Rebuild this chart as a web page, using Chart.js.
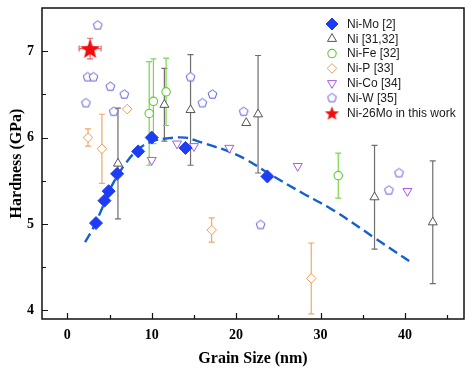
<!DOCTYPE html>
<html>
<head>
<meta charset="utf-8">
<script src="https://cdn.jsdelivr.net/npm/chart.js@4/dist/chart.umd.min.js"></script>
<style>
html, body { margin: 0; padding: 0; background: #fff; }
#wrap { width: 474px; height: 372px; }
</style>
</head>
<body>
<div id="wrap"><canvas id="hardnessChart" width="474" height="372"></canvas></div>
<script>
// values
const niMoX = [3.4, 4.4, 4.9, 5.9, 8.4, 10.0, 14.0, 23.7];
const niMoY = [5.01, 5.27, 5.38, 5.58, 5.84, 6.0, 5.88, 5.55];

const niX = [6.0, 11.5, 14.6, 21.2, 22.6, 36.4, 43.3];
const niY = [5.70, 6.38, 6.32, 6.17, 6.27, 5.31, 5.02];
const niErr = [0.64, 0.42, 0.64, 0, 0.68, 0.6, 0.71];

const niFeX = [9.7, 10.2, 11.7, 32.1];
const niFeY = [6.28, 6.42, 6.53, 5.56];
const niFeErr = [0.6, 0.49, 0.39, 0.26];

const niPX = [2.45, 4.1, 7.1, 17.1, 28.9];
const niPY = [6.0, 5.87, 6.33, 4.93, 4.37];
const niPErr = [0.1, 0.4, 0, 0.14, 0.41];

const niCoX = [10.0, 13.0, 15.0, 19.2, 27.3, 40.3];
const niCoY = [5.74, 5.93, 5.90, 5.88, 5.67, 5.38];

const niWX = [3.6, 2.4, 3.1, 2.2, 5.1, 6.75, 5.5, 14.6, 16.0, 17.2, 20.9, 22.9, 38.1, 39.3];
const niWY = [7.30, 6.70, 6.70, 6.40, 6.59, 6.50, 6.30, 6.70, 6.40, 6.50, 6.30, 4.99, 5.39, 5.59];

const thisWorkX = [2.7];
const thisWorkY = [7.03];
const thisWorkErrX = [1.3];
const thisWorkErrY = [0.12];

// dashed fit curve through Ni-Mo data
const fitX = [2.1, 3.1, 4.2, 5.2, 6.9, 8.6, 10.2, 11.7, 14.0, 15.4, 17.3, 19.1, 21.3, 23.6, 28.0, 31.5, 36.4, 40.5];
const fitY = [4.79, 4.96, 5.2, 5.43, 5.70, 5.88, 5.96, 5.99, 6.0, 5.96, 5.9, 5.84, 5.74, 5.60, 5.35, 5.16, 4.84, 4.57];

const xTicks = [0, 5, 10, 15, 20, 25, 30, 35, 40, 45];
const yTicks = [4, 4.5, 5, 5.5, 6, 6.5, 7];

const pts = (xs, ys) => xs.map((x, i) => ({ x: x, y: ys[i] }));

// custom marker images (pentagon, filled star)
function makePentagon(color, r) {
    const c = document.createElement('canvas');
    const s = Math.ceil(r * 2 + 3);
    c.width = s; c.height = s;
    const g = c.getContext('2d');
    g.beginPath();
    for (let k = 0; k < 5; k++) {
        const a = -Math.PI / 2 + k * 2 * Math.PI / 5;
        const px = s / 2 + r * Math.cos(a), py = s / 2 + r * Math.sin(a);
        k ? g.lineTo(px, py) : g.moveTo(px, py);
    }
    g.closePath();
    g.fillStyle = '#fff';
    g.fill();
    g.lineWidth = 1;
    g.strokeStyle = color;
    g.stroke();
    return c;
}
function makeStar(color, ro, ri) {
    const c = document.createElement('canvas');
    const s = Math.ceil(ro * 2 + 2);
    c.width = s; c.height = s;
    const g = c.getContext('2d');
    g.beginPath();
    for (let k = 0; k < 10; k++) {
        const a = -Math.PI / 2 + k * Math.PI / 5;
        const r = k % 2 ? ri : ro;
        const px = s / 2 + r * Math.cos(a), py = s / 2 + 1 + r * Math.sin(a);
        k ? g.lineTo(px, py) : g.moveTo(px, py);
    }
    g.closePath();
    g.fillStyle = color;
    g.fill();
    return c;
}

const pentagonImg = makePentagon('#5c5cd8', 4.6);
const starImg = makeStar('#f20d0d', 10.5, 4.4);
const starLegendImg = makeStar('#f20d0d', 7.5, 3.2);

// error bars, inward ticks, frame and legend
const extras = {
    id: 'extras',
    beforeDatasetsDraw(chart) {
        const ctx = chart.ctx;
        const xs = chart.scales.x, ys = chart.scales.y;
        ctx.save();
        chart.data.datasets.forEach(ds => {
            if (!ds.errY && !ds.errX) return;
            ctx.strokeStyle = ds.errColor;
            ctx.lineWidth = 1.2;
            ds.data.forEach((p, i) => {
                const px = xs.getPixelForValue(p.x);
                if (ds.errY && ds.errY[i]) {
                    const top = ys.getPixelForValue(p.y + ds.errY[i]);
                    const bot = ys.getPixelForValue(p.y - ds.errY[i]);
                    ctx.beginPath();
                    ctx.moveTo(px, top); ctx.lineTo(px, bot);
                    ctx.moveTo(px - 3, top); ctx.lineTo(px + 3, top);
                    ctx.moveTo(px - 3, bot); ctx.lineTo(px + 3, bot);
                    ctx.stroke();
                }
                if (ds.errX && ds.errX[i]) {
                    const py = ys.getPixelForValue(p.y);
                    const l = xs.getPixelForValue(p.x - ds.errX[i]);
                    const r = xs.getPixelForValue(p.x + ds.errX[i]);
                    ctx.beginPath();
                    ctx.moveTo(l, py); ctx.lineTo(r, py);
                    ctx.moveTo(l, py - 3); ctx.lineTo(l, py + 3);
                    ctx.moveTo(r, py - 3); ctx.lineTo(r, py + 3);
                    ctx.stroke();
                }
            });
        });
        ctx.restore();
    },
    afterDraw(chart) {
        const ctx = chart.ctx;
        const a = chart.chartArea;
        const xs = chart.scales.x, ys = chart.scales.y;
        ctx.save();
        ctx.strokeStyle = '#111';
        ctx.lineWidth = 1.5;
        ctx.strokeRect(a.left, a.top, a.right - a.left, a.bottom - a.top);
        ctx.lineWidth = 1.2;
        ctx.beginPath();
        xTicks.forEach(v => {
            const px = Math.round(xs.getPixelForValue(v)) + 0.5;
            const len = v % 10 === 0 ? 6 : 4;
            ctx.moveTo(px, a.bottom); ctx.lineTo(px, a.bottom - len);
        });
        yTicks.forEach(v => {
            const py = Math.round(ys.getPixelForValue(v)) + 0.5;
            const len = Number.isInteger(v) ? 6 : 4;
            ctx.moveTo(a.left, py); ctx.lineTo(a.left + len, py);
        });
        ctx.stroke();

        // legend
        const items = chart.data.datasets.filter(ds => !ds.noLegend);
        ctx.font = '12px "Liberation Sans", Arial, sans-serif';
        ctx.textBaseline = 'middle';
        items.forEach((ds, i) => {
            const ly = 24 + i * 14.8;
            const lx = 332;
            ctx.fillStyle = ds.backgroundColor;
            ctx.strokeStyle = ds.borderColor;
            ctx.lineWidth = ds.borderWidth;
            Chart.helpers.drawPoint(ctx, {
                pointStyle: ds.legendStyle || ds.pointStyle,
                rotation: ds.rotation || 0,
                radius: ds.legendRadius || ds.pointRadius,
                borderWidth: ds.borderWidth
            }, lx, ly);
            ctx.fillStyle = '#1a1a1a';
            ctx.fillText(ds.label, 347, ly + 0.5);
        });
        ctx.restore();
    }
};

const ctx = document.getElementById('hardnessChart').getContext('2d');
new Chart(ctx, {
    type: 'scatter',
    data: {
        datasets: [
            {
                label: 'Ni-Mo [2]',
                data: pts(niMoX, niMoY),
                pointStyle: 'rectRot',
                pointRadius: 6.5,
                legendRadius: 6,
                backgroundColor: '#1e3cf2',
                borderColor: '#1e3cf2',
                borderWidth: 1
            },
            {
                label: 'Ni [31,32]',
                data: pts(niX, niY),
                errY: niErr,
                errColor: '#6e6e6e',
                pointStyle: 'triangle',
                pointRadius: 5.2,
                backgroundColor: '#fff',
                borderColor: '#555',
                borderWidth: 1
            },
            {
                label: 'Ni-Fe [32]',
                data: pts(niFeX, niFeY),
                errY: niFeErr,
                errColor: '#7ad84a',
                pointStyle: 'circle',
                pointRadius: 4.2,
                backgroundColor: '#fff',
                borderColor: '#5fcc30',
                borderWidth: 1.1
            },
            {
                label: 'Ni-P [33]',
                data: pts(niPX, niPY),
                errY: niPErr,
                errColor: '#f2a866',
                pointStyle: 'rectRot',
                pointRadius: 4.8,
                backgroundColor: '#fff',
                borderColor: '#ee9c55',
                borderWidth: 1
            },
            {
                label: 'Ni-Co [34]',
                data: pts(niCoX, niCoY),
                pointStyle: 'triangle',
                rotation: 180,
                pointRadius: 5.2,
                backgroundColor: '#fff',
                borderColor: '#a45ae6',
                borderWidth: 1
            },
            {
                label: 'Ni-W [35]',
                data: pts(niWX, niWY),
                pointStyle: pentagonImg,
                backgroundColor: '#fff',
                borderColor: '#5c5cd8',
                borderWidth: 1
            },
            {
                label: 'Ni-26Mo in this work',
                data: pts(thisWorkX, thisWorkY),
                errX: thisWorkErrX,
                errY: thisWorkErrY,
                errColor: '#f26060',
                pointStyle: starImg,
                legendStyle: starLegendImg,
                backgroundColor: '#f20d0d',
                borderColor: '#f20d0d',
                borderWidth: 0
            },
            {
                label: 'fit',
                noLegend: true,
                type: 'line',
                data: pts(fitX, fitY),
                borderColor: '#1260d2',
                borderWidth: 2.4,
                borderDash: [10, 5],
                pointRadius: 0,
                tension: 0.4,
                fill: false
            }
        ]
    },
    options: {
        responsive: false,
        animation: false,
        layout: { padding: { top: 8, right: 10, left: 0, bottom: 0 } },
        plugins: {
            legend: { display: false },
            tooltip: { enabled: false }
        },
        scales: {
            x: {
                type: 'linear',
                min: -3,
                max: 47,
                afterBuildTicks: s => { s.ticks = xTicks.map(v => ({ value: v })); },
                afterFit: s => { s.height = 53; s.paddingLeft = 0; s.paddingRight = 0; },
                grid: { display: false, drawTicks: false },
                border: { display: false },
                ticks: {
                    autoSkip: false,
                    maxRotation: 0,
                    padding: 8,
                    color: '#000',
                    font: { family: '"Liberation Serif", "Times New Roman", serif', size: 14, weight: 'bold' },
                    callback: v => (v % 10 === 0 ? v : '')
                },
                title: {
                    display: true,
                    text: 'Grain Size (nm)',
                    color: '#000',
                    padding: { top: 0, bottom: 4 },
                    font: { family: '"Liberation Serif", "Times New Roman", serif', size: 16, weight: 'bold' }
                }
            },
            y: {
                type: 'linear',
                min: 3.9,
                max: 7.5,
                afterBuildTicks: s => { s.ticks = yTicks.map(v => ({ value: v })); },
                afterFit: s => { s.width = 42; s.paddingTop = 0; s.paddingBottom = 0; },
                grid: { display: false, drawTicks: false },
                border: { display: false },
                ticks: {
                    autoSkip: false,
                    padding: 8,
                    color: '#000',
                    font: { family: '"Liberation Serif", "Times New Roman", serif', size: 14, weight: 'bold' },
                    callback: v => (Number.isInteger(v) ? v : '')
                },
                title: {
                    display: true,
                    text: 'Hardness (GPa)',
                    color: '#000',
                    padding: { top: 7, bottom: 0 },
                    font: { family: '"Liberation Serif", "Times New Roman", serif', size: 16, weight: 'bold' }
                }
            }
        }
    },
    plugins: [extras]
});
</script>
</body>
</html>
